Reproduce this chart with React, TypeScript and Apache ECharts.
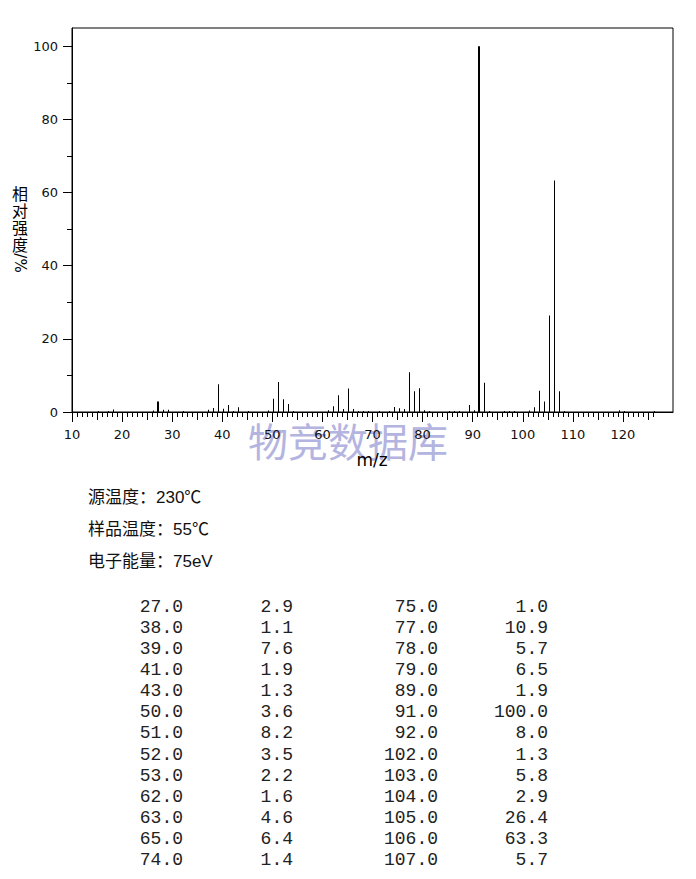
import React, { useEffect, useRef } from "react";
import * as echarts from "echarts";

// m/z and relative intensity (%) of every peak
const peakMz = [15, 17, 18, 26, 27, 28, 29, 32, 37, 38, 39, 40, 41, 42, 43, 45, 49, 50, 51, 52, 53, 54, 61, 62, 63, 64, 65, 66, 67, 68, 69, 71, 73, 74, 75, 76, 77, 78, 79, 80, 81, 85, 86, 87, 89, 90, 91, 92, 93, 96, 97, 98, 101, 102, 103, 104, 105, 106, 107, 108, 119, 120, 126];
const peakInt = [0.3, 0.3, 0.7, 0.4, 2.9, 0.6, 0.6, 0.3, 0.6, 1.1, 7.6, 0.9, 1.9, 0.3, 1.3, 0.3, 0.4, 3.6, 8.2, 3.5, 2.2, 0.3, 0.5, 1.6, 4.6, 0.8, 6.4, 0.8, 0.3, 0.3, 0.3, 0.3, 0.3, 1.4, 1.0, 0.8, 10.9, 5.7, 6.5, 0.5, 0.3, 0.3, 0.3, 0.3, 1.9, 0.5, 100.0, 8.0, 0.3, 0.3, 0.3, 0.3, 0.4, 1.3, 5.8, 2.9, 26.4, 63.3, 5.7, 0.3, 0.5, 0.3, 0.3];
const thickPeaks = [27, 91];

// table rows (peaks >= 1%)
const tableMz = [27, 38, 39, 41, 43, 50, 51, 52, 53, 62, 63, 65, 74, 75, 77, 78, 79, 89, 91, 92, 102, 103, 104, 105, 106, 107];
const tableInt = [2.9, 1.1, 7.6, 1.9, 1.3, 3.6, 8.2, 3.5, 2.2, 1.6, 4.6, 6.4, 1.4, 1.0, 10.9, 5.7, 6.5, 1.9, 100.0, 8.0, 1.3, 5.8, 2.9, 26.4, 63.3, 5.7];

const infoLines = ["源温度：230℃", "样品温度：55℃", "电子能量：75eV"];

const xMajorTicks = [10, 20, 30, 40, 50, 60, 70, 80, 90, 100, 110, 120];
const xMidTicks = [15, 25, 35, 45, 55, 65, 75, 85, 95, 105, 115, 125];
const xMinorTicks: number[] = [];
for (let v = 11; v <= 126; v++) if (v % 5 !== 0) xMinorTicks.push(v);
const yMajorTicks = [0, 20, 40, 60, 80, 100];
const yMinorTicks = [10, 30, 50, 70, 90];

const W = 696;
const H = 879;

export default function App() {
  const ref = useRef<HTMLDivElement>(null);
  useEffect(() => {
    if (!ref.current) return;
    const chart = echarts.init(ref.current, null, { renderer: "svg", width: W, height: H });
    const black = "#000";
    const labelFont = "DejaVu Sans, Verdana, sans-serif";

    const xBase = {
      type: "value",
      min: 10,
      max: 130,
      position: "bottom",
      splitLine: { show: false },
    };
    const yBase = {
      type: "value",
      min: 0,
      max: 105,
      position: "left",
      splitLine: { show: false },
    };

    const graphics: any[] = [];
    graphics.push({
      type: "text",
      z: -10,
      x: 348,
      y: 440,
      style: {
        text: "物竞数据库",
        fontSize: 40,
        fontFamily: "Noto Sans CJK SC, sans-serif",
        fill: "#b4b4e0",
        textAlign: "center",
        textVerticalAlign: "middle",
      },
    });
    graphics.push({
      type: "text",
      x: 372,
      y: 460,
      style: {
        text: "m/z",
        fontSize: 17,
        fontFamily: labelFont,
        fill: black,
        textAlign: "center",
        textVerticalAlign: "middle",
      },
    });
    graphics.push({
      type: "text",
      x: 20,
      y: 184,
      style: {
        text: "相\n对\n强\n度",
        fontSize: 16,
        lineHeight: 17,
        fontFamily: "Noto Sans CJK SC, sans-serif",
        fill: black,
        textAlign: "center",
        textVerticalAlign: "top",
      },
    });
    graphics.push({
      type: "text",
      x: 20,
      y: 263,
      rotation: -Math.PI / 2,
      style: {
        text: "/%",
        fontSize: 15,
        fontFamily: labelFont,
        fill: black,
        textAlign: "center",
        textVerticalAlign: "middle",
      },
    });
    infoLines.forEach((t, i) => {
      graphics.push({
        type: "text",
        x: 88,
        y: 497 + i * 32,
        style: {
          text: t,
          fontSize: 17,
          fontFamily: "Liberation Sans, Noto Sans CJK SC, sans-serif",
          fill: "#111",
          textAlign: "left",
          textVerticalAlign: "middle",
        },
      });
    });
    const half = Math.ceil(tableMz.length / 2);
    const colRight = [183, 293, 438, 548];
    const mono = "Liberation Mono, Courier New, monospace";
    tableMz.forEach((m, i) => {
      const col = i < half ? 0 : 2;
      const row = i < half ? i : i - half;
      const y = 607 + row * 21.08;
      graphics.push({
        type: "text",
        x: colRight[col],
        y,
        style: { text: m.toFixed(1), fontSize: 18, fontFamily: mono, fill: "#222", textAlign: "right", textVerticalAlign: "middle" },
      });
      graphics.push({
        type: "text",
        x: colRight[col + 1],
        y,
        style: { text: tableInt[i].toFixed(1), fontSize: 18, fontFamily: mono, fill: "#222", textAlign: "right", textVerticalAlign: "middle" },
      });
    });

    const option: any = {
      animation: false,
      backgroundColor: "#fff",
      grid: {
        left: 72,
        top: 28,
        right: W - 673,
        bottom: H - 412,
        show: true,
        borderColor: black,
        borderWidth: 1,
        backgroundColor: "transparent",
      },
      xAxis: [
        {
          ...xBase,
          axisLine: { show: true, lineStyle: { color: black, width: 1 } },
          axisTick: { show: true, length: 10, customValues: xMajorTicks, lineStyle: { color: black } },
          axisLabel: { show: true, customValues: xMajorTicks, margin: 16, fontSize: 13, color: "#111", fontFamily: labelFont },
        },
        {
          ...xBase,
          axisLine: { show: false },
          axisTick: { show: true, length: 8, customValues: xMidTicks, lineStyle: { color: black } },
          axisLabel: { show: false },
        },
        {
          ...xBase,
          axisLine: { show: false },
          axisTick: { show: true, length: 5, customValues: xMinorTicks, lineStyle: { color: black } },
          axisLabel: { show: false },
        },
      ],
      yAxis: [
        {
          ...yBase,
          axisLine: { show: true, lineStyle: { color: black, width: 1 } },
          axisTick: { show: true, length: 9, customValues: yMajorTicks, lineStyle: { color: black } },
          axisLabel: { show: true, customValues: yMajorTicks, margin: 14, fontSize: 13, color: "#111", fontFamily: labelFont },
        },
        {
          ...yBase,
          axisLine: { show: false },
          axisTick: { show: true, length: 5, customValues: yMinorTicks, lineStyle: { color: black } },
          axisLabel: { show: false },
        },
      ],
      series: [
        {
          type: "custom",
          xAxisIndex: 0,
          yAxisIndex: 0,
          encode: { x: 0, y: 1 },
          data: peakMz.map((m, i) => [m, peakInt[i], thickPeaks.includes(m) ? 2 : 1]),
          renderItem: (_params: any, api: any) => {
            const mz = api.value(0);
            const v = api.value(1);
            const w = api.value(2);
            const base = api.coord([mz, 0]);
            const top = api.coord([mz, v]);
            const x = Math.round(base[0]) + (w === 1 ? 1 : 0);
            return {
              type: "rect",
              shape: { x, y: top[1], width: w, height: base[1] - top[1] },
              style: { fill: black },
            };
          },
        },
      ],
      graphic: graphics,
    };
    chart.setOption(option);
    return () => chart.dispose();
  }, []);
  return (
    <div
      ref={ref}
      style={{ position: "fixed", left: 0, top: 0, width: W, height: H, background: "#fff" }}
    />
  );
}
